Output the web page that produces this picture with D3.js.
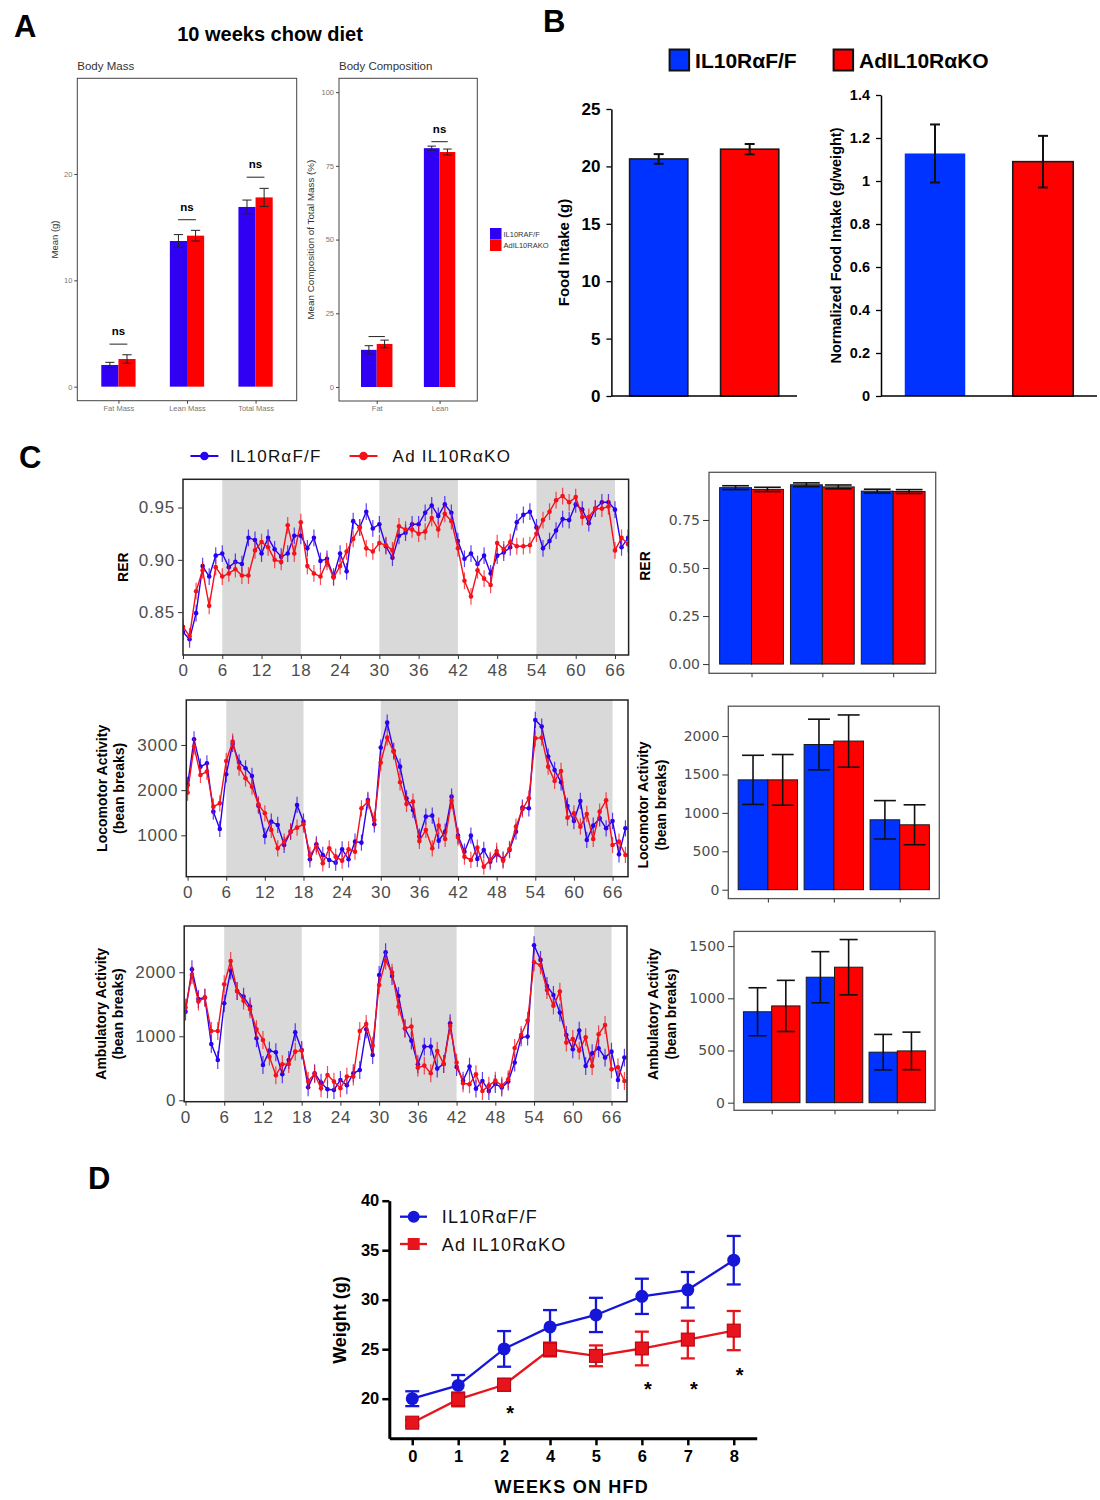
<!DOCTYPE html>
<html><head><meta charset="utf-8">
<script src="https://cdn.jsdelivr.net/npm/d3@7/dist/d3.min.js"></script>
<style>html,body{margin:0;padding:0;background:#fff;} svg{display:block;}</style>
</head><body>
<svg id="fig" width="1100" height="1500"></svg>
<script>
// ================= DATA =================
// Panel A – body mass / composition (10 weeks chow)
const massCats = ["Fat Mass", "Lean Mass", "Total Mass"];
const massCtrl = [2.04, 13.7, 16.9];
const massCtrlErr = [0.25, 0.6, 0.65];
const massKO = [2.6, 14.2, 17.8];
const massKOErr = [0.4, 0.5, 0.85];
const massTicks = [0, 10, 20];
const massSigY = [4.0, 15.7, 19.7];
const massSigLabel = ["ns", "ns", "ns"];
const compCats = ["Fat", "Lean"];
const compCtrl = [12.6, 81.0];
const compCtrlErr = [1.4, 0.7];
const compKO = [14.6, 79.7];
const compKOErr = [1.3, 1.0];
const compTicks = [0, 25, 50, 75, 100];
const compSigY = [17.1, 83.2];
const compSigLabel = ["", "ns"];
const legendA = ["IL10RAF/F", "AdIL10RAKO"];

// Panel B – food intake
const groupNames = ["IL10RαF/F", "AdIL10RαKO"];
const foodIntake = [20.65, 21.5];
const foodIntakeErr = [0.42, 0.45];
const foodTicks = [0, 5, 10, 15, 20, 25];
const normIntake = [1.128, 1.09];
const normIntakeErr = [0.135, 0.12];
const normTicks = [0, 0.2, 0.4, 0.6, 0.8, 1, 1.2, 1.4];

// Panel C – indirect calorimetry, hourly (0..68 h)
const hours = d3.range(0, 69);
const darkPeriods = [[6, 18], [30, 42], [54, 66]];
const hourTicks = [0, 6, 12, 18, 24, 30, 36, 42, 48, 54, 60, 66];
const rerCtrl = [0.831,0.824,0.849,0.894,0.884,0.904,0.906,0.893,0.898,0.896,
  0.921,0.919,0.906,0.921,0.910,0.903,0.906,0.923,0.923,0.911,
  0.921,0.899,0.901,0.884,0.906,0.889,0.937,0.931,0.946,0.930,
  0.934,0.913,0.902,0.923,0.926,0.934,0.934,0.945,0.952,0.942,
  0.953,0.945,0.918,0.901,0.906,0.896,0.904,0.887,0.904,0.907,
  0.912,0.936,0.943,0.946,0.931,0.911,0.918,0.928,0.939,0.938,
  0.953,0.948,0.935,0.949,0.955,0.955,0.948,0.912,0.921];
const rerKO = [0.836,0.827,0.870,0.890,0.856,0.893,0.884,0.887,0.891,0.885,
  0.885,0.909,0.917,0.912,0.900,0.898,0.933,0.906,0.936,0.894,
  0.887,0.884,0.898,0.883,0.894,0.908,0.920,0.931,0.911,0.908,
  0.916,0.914,0.909,0.932,0.929,0.929,0.925,0.927,0.940,0.929,
  0.944,0.937,0.911,0.880,0.865,0.890,0.882,0.876,0.916,0.910,
  0.917,0.913,0.913,0.914,0.925,0.938,0.946,0.957,0.961,0.955,
  0.960,0.941,0.941,0.949,0.949,0.951,0.909,0.921,0.915];
const rerErr = 0.008;
const rerTicks = [0.85, 0.90, 0.95];
const locoCtrl = [2114,3125,2520,2594,1524,1140,2351,3022,2616,2483,
  2314,1657,985,1303,1229,786,1081,1672,1303,469,
  801,565,454,395,690,469,860,838,1782,1244,
  2941,3494,2867,2520,1819,1561,970,1413,1435,882,
  1081,1856,993,638,993,476,675,417,579,469,
  675,1081,1612,1598,3553,3406,2742,2446,2173,1649,
  1317,1760,897,1214,1376,1155,1317,579,1155];
const locoKO = [1945,2963,2336,2410,1635,1708,2646,3074,2498,2262,
  2077,1686,1487,1118,712,860,1081,1170,1244,565,
  749,380,712,528,439,690,638,1598,1745,1339,
  2609,3162,2852,2173,1694,1745,875,1118,712,1214,
  919,1767,956,528,454,727,306,454,653,439,
  697,1192,1576,1819,3148,3162,2520,2203,2424,1391,
  1487,1192,1472,919,1524,1775,786,860,565];
const locoErr = 180;
const locoTicks = [1000, 2000, 3000];
const ambCtrl = [1385,2047,1583,1604,880,630,1516,2026,1708,1620,
  1464,969,552,776,750,406,630,1063,786,203,
  422,276,172,161,318,234,422,474,1109,708,
  1958,2313,1943,1630,1120,932,563,839,839,495,
  568,1203,521,307,526,182,302,146,255,198,
  292,589,984,995,2422,2193,1786,1646,1370,1021,
  797,1089,536,734,813,667,760,318,667];
const ambKO = [1448,1958,1542,1604,1083,1083,1812,2177,1708,1557,
  1422,1109,943,682,391,563,568,760,776,302,
  411,188,396,292,188,370,370,1083,1193,854,
  1802,2182,1995,1464,1125,1151,510,542,422,771,
  568,1161,589,266,250,406,146,229,307,229,
  328,818,1021,1245,2156,2109,1724,1479,1698,901,
  958,776,984,536,1031,1177,484,516,302];
const ambErr = 140;
const ambTicks = [0, 1000, 2000];

// Panel C – summary bars (three unlabeled groups)
const barGroups = ["g1", "g2", "g3"];
const rerBarCtrl = [0.918, 0.933, 0.900];
const rerBarCtrlErr = [0.010, 0.010, 0.010];
const rerBarKO = [0.909, 0.922, 0.898];
const rerBarKOErr = [0.011, 0.010, 0.010];
const rerBarTicks = [0, 0.25, 0.5, 0.75];
const locoBarCtrl = [1430, 1890, 910];
const locoBarCtrlErr = [320, 330, 250];
const locoBarKO = [1430, 1935, 845];
const locoBarKOErr = [330, 340, 260];
const locoBarTicks = [0, 500, 1000, 1500, 2000];
const ambBarCtrl = [871, 1202, 484];
const ambBarCtrlErr = [230, 245, 170];
const ambBarKO = [927, 1298, 496];
const ambBarKOErr = [245, 265, 180];
const ambBarTicks = [0, 500, 1000, 1500];

// Panel D – weight on HFD
const weeks = ["0", "1", "2", "4", "5", "6", "7", "8"];
const weightCtrl = [20.0, 21.34, 25.03, 27.25, 28.46, 30.34, 31.0, 33.99];
const weightCtrlErr = [0.75, 1.05, 1.8, 1.7, 1.73, 1.78, 1.8, 2.45];
const weightKO = [17.58, 19.93, 21.41, 24.97, 24.33, 25.07, 25.97, 26.88];
const weightKOErr = [0.3, 0.7, 0.6, 0.7, 1.05, 1.7, 1.9, 1.98];
const weightTicks = [20, 25, 30, 35, 40];
const sigWeeks = ["2", "6", "7", "8"];
const sigWeekY = [18.69, 21.1, 21.1, 22.45];

// ================= DRAWING =================
const svg = d3.select("#fig");
const SANS = "'Liberation Sans', Arial, Helvetica, sans-serif";
const DEJAVU = "'DejaVu Sans', Verdana, sans-serif";

function label(x, y, s, o = {}) {
  const t = svg.append("text").attr("x", x).attr("y", y).text(s)
    .attr("font-family", o.font || SANS).attr("font-size", o.size || 12)
    .attr("font-weight", o.weight || "normal").attr("fill", o.fill || "#000")
    .attr("text-anchor", o.anchor || "start");
  if (o.rotate) t.attr("transform", `rotate(-90,${x},${y})`);
  if (o.baseline) t.attr("dominant-baseline", o.baseline);
  if (o.ls != null) t.attr("letter-spacing", o.ls);
  return t;
}
function styleAxis(g, o) {
  g.attr("font-family", o.font || SANS).attr("font-size", o.size || 10);
  g.selectAll("text").attr("fill", o.fill || "#000").attr("font-weight", o.weight || "normal");
  if (o.ls != null) g.selectAll("text").attr("letter-spacing", o.ls);
  g.selectAll(".tick line").attr("stroke", o.tickColor || "#000").attr("stroke-width", o.tickWidth || 1);
  if (o.noDomain) g.select(".domain").remove();
  else g.select(".domain").attr("stroke", o.domainColor || "#000").attr("stroke-width", o.domainWidth || 1);
  return g;
}
function errbar(g, cx, y1, y2, half, color, w) {
  g.append("line").attr("x1", cx).attr("x2", cx).attr("y1", y1).attr("y2", y2).attr("stroke", color).attr("stroke-width", w);
  if (half > 0) {
    g.append("line").attr("x1", cx - half).attr("x2", cx + half).attr("y1", y1).attr("y2", y1).attr("stroke", color).attr("stroke-width", w);
    g.append("line").attr("x1", cx - half).attr("x2", cx + half).attr("y1", y2).attr("y2", y2).attr("stroke", color).attr("stroke-width", w);
  }
}

// ---------- Panel labels ----------
label(14, 37, "A", {size: 31, weight: "bold"});
label(543, 32, "B", {size: 31, weight: "bold"});
label(19, 468, "C", {size: 31, weight: "bold"});
label(88, 1189, "D", {size: 31, weight: "bold"});

// ---------- Panel A ----------
const A_BLUE = "#3000f5", A_RED = "#ff0000";
label(270, 41, "10 weeks chow diet", {size: 20, weight: "bold", anchor: "middle"});

function panelA(o) {
  const g = svg.append("g");
  const x = d3.scalePoint().domain(o.cats).range([o.l, o.r]).padding(0.6);
  const y = d3.scaleLinear().domain(o.yDom).range([o.b, o.t]);
  const bw = x.step() * 0.25;
  o.cats.forEach((c, i) => {
    const vals = [o.ctrl[i], o.ko[i]], errs = [o.ctrlErr[i], o.koErr[i]];
    vals.forEach((v, k) => {
      const x0 = x(c) - bw + k * bw;
      g.append("rect").attr("x", x0).attr("y", y(v)).attr("width", bw)
        .attr("height", y(0) - y(v)).attr("fill", k ? A_RED : A_BLUE);
      errbar(g, x0 + bw / 2, y(v - errs[k]), y(v + errs[k]), bw * 0.27, "#222", 1);
    });
    g.append("line").attr("x1", x(c) - bw * 0.52).attr("x2", x(c) + bw * 0.52)
      .attr("y1", y(o.sigY[i])).attr("y2", y(o.sigY[i])).attr("stroke", "#222").attr("stroke-width", 1);
    if (o.sigLabel[i]) g.append("text").attr("x", x(c)).attr("y", y(o.sigY[i]) - 9)
      .attr("text-anchor", "middle").attr("font-family", SANS).attr("font-size", 11.5)
      .attr("font-weight", "bold").text(o.sigLabel[i]);
  });
  g.append("rect").attr("x", o.l).attr("y", o.t).attr("width", o.r - o.l).attr("height", o.b - o.t)
    .attr("fill", "none").attr("stroke", "#444").attr("stroke-width", 1);
  const ya = g.append("g").attr("transform", `translate(${o.l},0)`)
    .call(d3.axisLeft(y).tickValues(o.ticks).tickSize(3).tickPadding(2));
  styleAxis(ya, {size: 7.5, fill: "#777", tickColor: "#444", noDomain: true});
  const xa = g.append("g").attr("transform", `translate(0,${o.b})`)
    .call(d3.axisBottom(x).tickSize(3).tickPadding(2));
  styleAxis(xa, {size: 7.5, fill: "#777", tickColor: "#444", noDomain: true});
  label(o.l, 70, o.title, {size: 11.5, fill: "#333"});
  label(o.ylx, (o.t + o.b) / 2, o.ylab, {size: o.ylfs, fill: "#333", rotate: true, anchor: "middle"});
}
panelA({cats: massCats, ctrl: massCtrl, ctrlErr: massCtrlErr, ko: massKO, koErr: massKOErr,
  ticks: massTicks, sigY: massSigY, sigLabel: massSigLabel, yDom: [-1.32, 29.0],
  l: 77.3, r: 296.7, t: 78.3, b: 400.7, title: "Body Mass", ylab: "Mean (g)", ylx: 58, ylfs: 9.5});
panelA({cats: compCats, ctrl: compCtrl, ctrlErr: compCtrlErr, ko: compKO, koErr: compKOErr,
  ticks: compTicks, sigY: compSigY, sigLabel: compSigLabel, yDom: [-4.75, 104.7],
  l: 339, r: 477.3, t: 78.3, b: 401, title: "Body Composition",
  ylab: "Mean Composition of Total Mass (%)", ylx: 314, ylfs: 9.8});
// legend A
legendA.forEach((s, i) => {
  svg.append("rect").attr("x", 490).attr("y", 228 + i * 11.5).attr("width", 11.5).attr("height", 11.5)
    .attr("fill", i ? A_RED : A_BLUE);
  label(503.5, 236.5 + i * 11.5, s, {size: 7.5, fill: "#333"});
});

// ---------- Panel B ----------
const B_BLUE = "#0033ff", B_RED = "#ff0000";
groupNames.forEach((s, i) => {
  const x0 = i ? 833.6 : 669.6;
  svg.append("rect").attr("x", x0).attr("y", 49.5).attr("width", 19.5).attr("height", 21)
    .attr("fill", i ? B_RED : B_BLUE).attr("stroke", "#111").attr("stroke-width", 2);
  label(x0 + 25.5, 68, s, {size: 21, weight: "bold"});
});
function panelB(o) {
  const g = svg.append("g");
  const x = d3.scaleBand().domain(groupNames).range([o.l, o.r]).paddingInner(o.pi).paddingOuter(o.po);
  const y = d3.scaleLinear().domain(o.yDom).range([o.b, o.t]);
  groupNames.forEach((n, i) => {
    const v = o.vals[i];
    const r = g.append("rect").attr("x", x(n)).attr("y", y(v)).attr("width", x.bandwidth())
      .attr("height", y(0) - y(v)).attr("fill", i ? B_RED : B_BLUE);
    if (o.border[i]) r.attr("stroke", "#1a1a1a").attr("stroke-width", 1.6);
    errbar(g, x(n) + x.bandwidth() / 2, y(v - o.errs[i]), y(v + o.errs[i]), 5, "#111", 2);
  });
  const ya = g.append("g").attr("transform", `translate(${o.l},0)`)
    .call(d3.axisLeft(y).tickValues(o.ticks).tickSize(5).tickSizeOuter(0).tickPadding(6).tickFormat(d3.format("")));
  styleAxis(ya, {size: o.fs, weight: "bold", tickWidth: 1.3, domainWidth: 1.5});
  g.append("line").attr("x1", o.l).attr("x2", o.r).attr("y1", o.b).attr("y2", o.b)
    .attr("stroke", "#000").attr("stroke-width", 1.5);
  label(o.ylx, (o.t + o.b) / 2 + o.yoff, o.ylab, {size: o.ylfs, weight: "bold", rotate: true, anchor: "middle"});
}
panelB({vals: foodIntake, errs: foodIntakeErr, ticks: foodTicks, yDom: [0, 25], l: 611.4, r: 797,
  t: 109, b: 396, pi: 0.36, po: 0.2, border: [true, true], fs: 17,
  ylab: "Food Intake (g)", ylx: 569, ylfs: 15, yoff: 0});
panelB({vals: normIntake, errs: normIntakeErr, ticks: normTicks, yDom: [0, 1.4], l: 881, r: 1097,
  t: 95, b: 396, pi: 0.44, po: 0.22, border: [false, true], fs: 14.5,
  ylab: "Normalized Food Intake (g/weight)", ylx: 841, ylfs: 14.5, yoff: 0});

// ---------- Panel C ----------
const C_BLUE = "#2a00f2", C_RED = "#f5101a";
const CB_BLUE = "#0033ff", CB_RED = "#ff0000";
// legend
[[C_BLUE, "IL10RαF/F", 190.4, 230], [C_RED, "Ad IL10RαKO", 349.5, 392.6]].forEach(([c, s, lx, tx]) => {
  svg.append("line").attr("x1", lx).attr("x2", lx + 28).attr("y1", 456).attr("y2", 456).attr("stroke", c).attr("stroke-width", 2);
  svg.append("circle").attr("cx", lx + 14).attr("cy", 456).attr("r", 4.3).attr("fill", c);
  label(tx, 462, s, {size: 17, fill: "#111", ls: 1.2});
});

let clipId = 0;
function linePanel(o) {
  const g = svg.append("g");
  const x = d3.scaleLinear().domain(o.xDom).range([o.l, o.r]);
  const y = d3.scaleLinear().domain(o.yDom).range([o.b, o.t]);
  const id = "clip" + (clipId++);
  svg.append("clipPath").attr("id", id).append("rect")
    .attr("x", o.l).attr("y", o.t).attr("width", o.r - o.l).attr("height", o.b - o.t);
  const inner = g.append("g").attr("clip-path", `url(#${id})`);
  inner.selectAll("rect.dark").data(darkPeriods).join("rect").attr("class", "dark")
    .attr("x", d => x(d[0])).attr("width", d => x(d[1]) - x(d[0]))
    .attr("y", o.t).attr("height", o.b - o.t).attr("fill", "#d9d9d9");
  [[o.ctrl, C_BLUE], [o.ko, C_RED]].forEach(([vals, col]) => {
    const s = inner.append("g");
    s.selectAll("line.err").data(vals).join("line").attr("class", "err")
      .attr("x1", (d, i) => x(hours[i])).attr("x2", (d, i) => x(hours[i]))
      .attr("y1", d => y(d - o.err)).attr("y2", d => y(d + o.err))
      .attr("stroke", col).attr("stroke-width", 1.2).attr("stroke-opacity", 0.75);
    s.append("path").datum(vals)
      .attr("d", d3.line().x((d, i) => x(hours[i])).y(d => y(d)))
      .attr("fill", "none").attr("stroke", col).attr("stroke-width", 1.4);
    s.selectAll("circle").data(vals).join("circle")
      .attr("cx", (d, i) => x(hours[i])).attr("cy", d => y(d)).attr("r", 2.3).attr("fill", col);
  });
  g.append("rect").attr("x", o.l).attr("y", o.t).attr("width", o.r - o.l).attr("height", o.b - o.t)
    .attr("fill", "none").attr("stroke", "#222").attr("stroke-width", 1.5);
  const ya = g.append("g").attr("transform", `translate(${o.l},0)`)
    .call(d3.axisLeft(y).tickValues(o.ticks).tickSize(5).tickPadding(3).tickFormat(o.fmt));
  styleAxis(ya, {size: 17, fill: "#4d4d4d", tickColor: "#333", noDomain: true, ls: 0.8});
  const xa = g.append("g").attr("transform", `translate(0,${o.b})`)
    .call(d3.axisBottom(x).tickValues(hourTicks).tickSize(4).tickPadding(5));
  styleAxis(xa, {size: 17, fill: "#4d4d4d", tickColor: "#333", noDomain: true, ls: 0.8});
  o.ylab.forEach((s, i) => label(o.ylx[i], (o.t + o.b) / 2, s, {size: 14, weight: "bold", rotate: true, anchor: "middle", baseline: "central"}));
}
linePanel({ctrl: rerCtrl, ko: rerKO, err: rerErr, ticks: rerTicks, fmt: d3.format(".2f"),
  xDom: [0, 68.08], yDom: [0.809, 0.977], l: 183, r: 628.6, t: 479.3, b: 655,
  ylab: ["RER"], ylx: [123]});
linePanel({ctrl: locoCtrl, ko: locoKO, err: locoErr, ticks: locoTicks, fmt: d3.format("d"),
  xDom: [-0.2, 68.4], yDom: [84, 3995], l: 186.3, r: 628, t: 700, b: 876.7,
  ylab: ["Locomotor Activity", "(bean breaks)"], ylx: [102, 119]});
linePanel({ctrl: ambCtrl, ko: ambKO, err: ambErr, ticks: ambTicks, fmt: d3.format("d"),
  xDom: [-0.2, 68.4], yDom: [-22, 2723], l: 184.2, r: 627, t: 926, b: 1101.7,
  ylab: ["Ambulatory Activity", "(bean breaks)"], ylx: [101, 118]});

function barPanel(o) {
  const g = svg.append("g");
  const x = d3.scalePoint().domain(barGroups).range([o.l, o.r]).padding(0.6);
  const y = d3.scaleLinear().domain(o.yDom).range([o.b, o.t]);
  const bw = x.step() * 0.45;
  g.append("rect").attr("x", o.l).attr("y", o.t).attr("width", o.r - o.l).attr("height", o.b - o.t)
    .attr("fill", "none").attr("stroke", "#555").attr("stroke-width", 1.3);
  barGroups.forEach((c, i) => {
    [[o.ctrl[i], o.ctrlErr[i], CB_BLUE], [o.ko[i], o.koErr[i], CB_RED]].forEach(([v, e, col], k) => {
      const x0 = x(c) - bw + k * bw;
      g.append("rect").attr("x", x0).attr("y", y(v)).attr("width", bw).attr("height", y(0) - y(v))
        .attr("fill", col).attr("stroke", "#1a1a1a").attr("stroke-width", 1);
      errbar(g, x0 + bw / 2, y(v - e), y(v + e), bw * o.cap, "#111", 1.6);
    });
  });
  const ya = g.append("g").attr("transform", `translate(${o.l},0)`)
    .call(d3.axisLeft(y).tickValues(o.ticks).tickSize(6).tickPadding(3).tickFormat(o.fmt));
  styleAxis(ya, {font: DEJAVU, size: 14, fill: "#4d4d4d", tickColor: "#333", noDomain: true});
  const xa = g.append("g").attr("transform", `translate(0,${o.b})`)
    .call(d3.axisBottom(x).tickSize(4).tickFormat(""));
  styleAxis(xa, {tickColor: "#333", noDomain: true});
  o.ylab.forEach((s, i) => label(o.ylx[i], o.yc, s, {size: 14, weight: "bold", rotate: true, anchor: "middle", baseline: "central"}));
}
barPanel({ctrl: rerBarCtrl, ctrlErr: rerBarCtrlErr, ko: rerBarKO, koErr: rerBarKOErr, ticks: rerBarTicks,
  fmt: d3.format(".2f"), yDom: [-0.048, 0.998], l: 709, r: 935.7, t: 472.3, b: 673.3, cap: 0.42,
  ylab: ["RER"], ylx: [645], yc: 566});
barPanel({ctrl: locoBarCtrl, ctrlErr: locoBarCtrlErr, ko: locoBarKO, koErr: locoBarKOErr, ticks: locoBarTicks,
  fmt: d3.format("d"), yDom: [-116, 2389], l: 728.3, r: 939.3, t: 706.2, b: 898.6, cap: 0.37,
  ylab: ["Locomotor Activity", "(bean breaks)"], ylx: [643, 661], yc: 805});
barPanel({ctrl: ambBarCtrl, ctrlErr: ambBarCtrlErr, ko: ambBarKO, koErr: ambBarKOErr, ticks: ambBarTicks,
  fmt: d3.format("d"), yDom: [-73, 1641], l: 734, r: 935, t: 931.4, b: 1110.3, cap: 0.32,
  ylab: ["Ambulatory Activity", "(bean breaks)"], ylx: [653, 671], yc: 1014});

// ---------- Panel D ----------
(function () {
  const D_BLUE = "#1616d8", D_RED = "#e8141c";
  const g = svg.append("g");
  const x = d3.scalePoint().domain(weeks).range([389.3, 756.7]).padding(0.5);
  const y = d3.scaleLinear().domain([16, 40]).range([1438.3, 1200.7]);
  const ya = g.append("g").attr("transform", "translate(389.3,0)")
    .call(d3.axisLeft(y).tickValues(weightTicks).tickSize(7).tickSizeOuter(0).tickPadding(3));
  styleAxis(ya, {size: 16.5, weight: "bold", tickWidth: 2.5, domainWidth: 3});
  const xa = g.append("g").attr("transform", "translate(0,1438.3)")
    .call(d3.axisBottom(x).tickSize(7).tickSizeOuter(0).tickPadding(5));
  styleAxis(xa, {size: 16.5, weight: "bold", tickWidth: 2.5, domainWidth: 3});
  [[weightCtrl, weightCtrlErr, D_BLUE, "circle"], [weightKO, weightKOErr, D_RED, "square"]].forEach(([vals, errs, col, shape]) => {
    const s = g.append("g");
    vals.forEach((v, i) => errbar(s, x(weeks[i]), y(v - errs[i]), y(v + errs[i]), 7, col, 2.3));
    s.append("path").datum(vals).attr("d", d3.line().x((d, i) => x(weeks[i])).y(d => y(d)))
      .attr("fill", "none").attr("stroke", col).attr("stroke-width", 2.3);
    if (shape === "circle") {
      s.selectAll("circle").data(vals).join("circle").attr("cx", (d, i) => x(weeks[i])).attr("cy", d => y(d))
        .attr("r", 6.5).attr("fill", col);
    } else {
      s.selectAll("rect").data(vals).join("rect").attr("x", (d, i) => x(weeks[i]) - 6.5).attr("y", d => y(d) - 6.5)
        .attr("width", 13).attr("height", 13).attr("fill", col).attr("stroke", "#b00010").attr("stroke-width", 1);
    }
  });
  sigWeeks.forEach((w, i) => {
    g.append("text").attr("x", x(w) + 6).attr("y", y(sigWeekY[i]) + 8).attr("text-anchor", "middle")
      .attr("font-family", SANS).attr("font-size", 20).attr("font-weight", "bold").text("*");
  });
  // legend
  [[D_BLUE, "IL10RαF/F", 1216.7, "circle"], [D_RED, "Ad IL10RαKO", 1244, "square"]].forEach(([c, s, ly, shape]) => {
    g.append("line").attr("x1", 400).attr("x2", 427).attr("y1", ly).attr("y2", ly).attr("stroke", c).attr("stroke-width", 2.3);
    if (shape === "circle") g.append("circle").attr("cx", 413.7).attr("cy", ly).attr("r", 6).attr("fill", c);
    else g.append("rect").attr("x", 407.7).attr("y", ly - 6).attr("width", 12).attr("height", 12).attr("fill", c);
    label(441.7, ly + 6.5, s, {size: 18, fill: "#111", ls: 1.2});
  });
  label(340, 1320, "Weight (g)", {size: 18, weight: "bold", rotate: true, anchor: "middle", baseline: "central"});
  label(571.7, 1493, "WEEKS ON HFD", {size: 18, weight: "bold", anchor: "middle", ls: 1.2});
})();
</script>
</body></html>
